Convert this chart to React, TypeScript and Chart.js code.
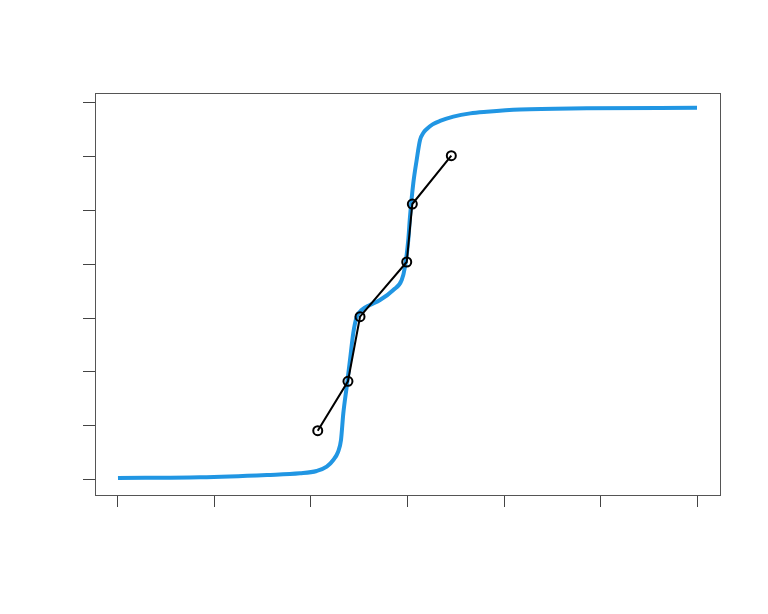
import React, { useEffect, useRef } from "react";
import { Chart, registerables } from "chart.js";

Chart.register(...registerables);

// Smooth (blue) curve
const curveX = [0, 0.85, 1.544, 1.886, 2.059, 2.163, 2.231, 2.28, 2.311, 2.335, 2.37, 2.404, 2.438, 2.474, 2.525, 2.611, 2.715, 2.853, 2.94, 2.974, 3.008, 3.026, 3.06, 3.095, 3.13, 3.165, 3.2, 3.26, 3.337, 3.475, 3.65, 3.821, 4.166, 4.857, 6.0];
const curveY = [0.037, 0.05, 0.093, 0.124, 0.167, 0.246, 0.37, 0.519, 0.741, 1.235, 1.728, 2.222, 2.717, 3.024, 3.148, 3.241, 3.333, 3.519, 3.704, 3.95, 4.444, 4.876, 5.494, 5.926, 6.296, 6.43, 6.5, 6.585, 6.65, 6.73, 6.79, 6.82, 6.862, 6.883, 6.894];

// Observed (black) points
const pointsX = [2.07, 2.383, 2.508, 2.992, 3.05, 3.454];
const pointsY = [0.913, 1.828, 3.024, 4.037, 5.111, 6.006];

// Axis ticks (no labels)
const xTicks = [0, 1, 2, 3, 4, 5, 6];
const yTicks = [0, 1, 2, 3, 4, 5, 6, 7];

const boxPlugin = {
  id: "boxPlugin",
  afterDraw(chart: any) {
    const { ctx, chartArea } = chart;
    ctx.save();
    ctx.strokeStyle = "#555555";
    ctx.lineWidth = 1;
    ctx.strokeRect(
      Math.round(chartArea.left) + 0.5,
      Math.round(chartArea.top) + 0.5,
      Math.round(chartArea.right - chartArea.left),
      Math.round(chartArea.bottom - chartArea.top)
    );
    ctx.restore();
  },
};

export default function App() {
  const ref = useRef<HTMLCanvasElement | null>(null);
  useEffect(() => {
    if (!ref.current) return;
    const chart = new Chart(ref.current, {
      type: "line",
      data: {
        datasets: [
          {
            data: pointsX.map((x, i) => ({ x, y: pointsY[i] })),
            borderColor: "#000000",
            borderWidth: 2,
            pointRadius: 4.5,
            pointBorderWidth: 2,
            pointBorderColor: "#000000",
            pointBackgroundColor: "rgba(0,0,0,0)",
            tension: 0,
            order: 0,
          },
          {
            data: curveX.map((x, i) => ({ x, y: curveY[i] })),
            borderColor: "#2196E3",
            borderWidth: 4,
            pointRadius: 0,
            cubicInterpolationMode: "monotone",
            order: 1,
          },
        ],
      },
      options: {
        responsive: false,
        animation: false,
        layout: { padding: { left: 83, right: 48, top: 93, bottom: 107 } },
        plugins: { legend: { display: false }, tooltip: { enabled: false } },
        scales: {
          x: {
            type: "linear",
            min: -0.238,
            max: 6.238,
            afterBuildTicks: (scale: any) => {
              scale.ticks = xTicks.map((v) => ({ value: v }));
            },
            ticks: { display: false },
            grid: {
              drawOnChartArea: false,
              drawTicks: true,
              tickLength: 12,
              color: "#444444",
              lineWidth: 1,
            },
            border: { display: false },
          },
          y: {
            type: "linear",
            min: -0.278,
            max: 7.167,
            afterBuildTicks: (scale: any) => {
              scale.ticks = yTicks.map((v) => ({ value: v }));
            },
            ticks: { display: false },
            grid: {
              drawOnChartArea: false,
              drawTicks: true,
              tickLength: 12,
              color: "#444444",
              lineWidth: 1,
            },
            border: { display: false },
          },
        },
      },
      plugins: [boxPlugin],
    } as any);
    return () => chart.destroy();
  }, []);
  return (
    <div style={{ position: "fixed", left: 0, top: 0, width: 768, height: 614, background: "#fff" }}>
      <canvas ref={ref} width={768} height={614} />
    </div>
  );
}
